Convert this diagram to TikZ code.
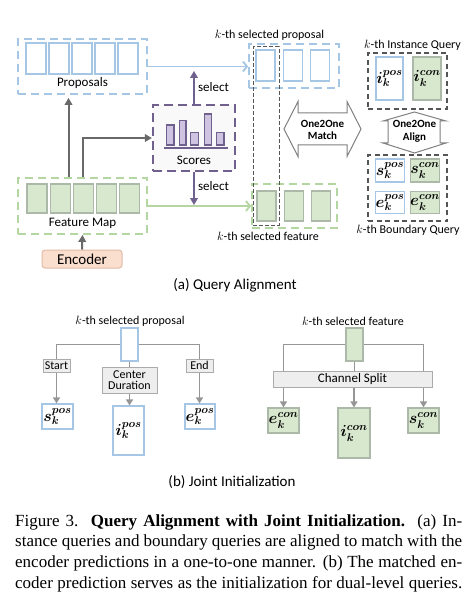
\RequirePackage{fix-cm}
\documentclass[tikz,border=0pt]{standalone}
\usepackage{fontspec}
\setmainfont{Liberation Serif}
\newfontfamily\diagfont{Carlito}
\usetikzlibrary{arrows.meta}

\definecolor{propblue}{RGB}{165,198,228}
\definecolor{featgreen}{RGB}{180,214,160}
\definecolor{featfill}{RGB}{216,232,206}
\definecolor{featline}{RGB}{172,184,168}
\definecolor{arrowgray}{RGB}{105,105,105}
\definecolor{scorepurple}{RGB}{112,96,142}
\definecolor{barfill}{RGB}{206,196,226}
\definecolor{encfill}{RGB}{250,222,206}
\definecolor{encline}{RGB}{226,186,166}
\definecolor{initgray}{RGB}{150,150,150}
\definecolor{initfill}{RGB}{238,238,238}
\definecolor{querydash}{RGB}{85,85,85}

\tikzset{
  boxtext/.style={font=\diagfont\fontsize{13}{13}\selectfont, inner sep=1pt},
  kthtext/.style={font=\diagfont\fontsize{12}{12}\selectfont, inner sep=0pt},
  captext/.style={font=\diagfont\fontsize{15}{15}\selectfont, inner sep=0pt},
  blocktext/.style={font=\diagfont\bfseries\fontsize{11}{12}\selectfont, align=center, inner sep=0pt},
  mathcell/.style={font=\fontsize{16}{16}\selectfont\boldmath},
  propgroup/.style={draw=propblue, line width=1.8pt, dash pattern=on 8pt off 5pt, inner sep=0pt},
  featgroup/.style={draw=featgreen, line width=1.8pt, dash pattern=on 8pt off 5pt, inner sep=0pt},
  scoregroup/.style={draw=scorepurple, fill=scorepurple!4, line width=2.2pt, dash pattern=on 9pt off 5pt, inner sep=0pt},
  querygroup/.style={draw=querydash, line width=1.3pt, dash pattern=on 5pt off 3.5pt, inner sep=0pt},
  colgroup/.style={draw=querydash, line width=1pt, dash pattern=on 4pt off 2pt, inner sep=0pt},
  propcell/.style={draw=propblue, fill=white, line width=1.2pt, inner sep=0pt},
  featcell/.style={draw=featline, fill=featfill, line width=1.2pt, inner sep=0pt},
  scorebar/.style={draw=scorepurple, fill=barfill, line width=1.2pt},
  grayarrow/.style={draw=arrowgray, line width=2pt, -{Triangle[length=7pt,width=7.5pt]}},
  selarrow/.style={draw=scorepurple, line width=2pt, -{Triangle[length=7pt,width=7.5pt]}},
  bluearrow/.style={draw=propblue, line width=1.8pt, -{Straight Barb[length=4pt,width=10pt]}},
  greenarrow/.style={draw=featgreen, line width=1.8pt, -{Straight Barb[length=4pt,width=10pt]}},
  blockarrow/.style={draw=gray, fill=white, line width=1pt, line join=miter},
  initline/.style={draw=initgray, line width=1.8pt},
  initarrow/.style={initline, -{Triangle[length=6pt,width=7pt]}},
  initbox/.style={draw=initgray!80, fill=initfill, line width=1pt, inner sep=1pt,
    font=\diagfont\fontsize{12}{11}\selectfont},
}

\begin{document}
\begin{tikzpicture}[x=1pt,y=-1pt]
    \useasboundingbox (0,0) rectangle (474,604);

    % (a) Proposals and feature map
    \node[propgroup, minimum width=129, minimum height=55] (proposals) at (82.5,66.5) {};
    \foreach \i in {0,...,4}
        \node[propcell, minimum width=20, minimum height=31] (prop\i) at (36+23*\i,58.5) {};
    \node[boxtext] (proplabel) at (82.5,83) {Proposals};

    \node[featgroup, minimum width=129, minimum height=56] (fmap) at (82.5,206) {};
    \foreach \i in {0,...,4}
        \node[featcell, minimum width=20, minimum height=29] (feat\i) at (37+23.2*\i,198.5) {};
    \node[boxtext] (fmaplabel) at (82.5,223) {Feature Map};

    \node[draw=encline, fill=encfill, line width=1pt, rounded corners=3pt, minimum width=80,
        minimum height=18, inner sep=0pt, font=\diagfont\fontsize{15}{15}\selectfont] (encoder) at (82,259) {Encoder};

    % Scores
    \node[scoregroup, minimum width=82, minimum height=66] (scores) at (194,138) {};
    \foreach \l/\t/\r in {166.7/125/174, 179.3/120.7/186, 190.7/132.3/198.3, 204.3/114/211.7, 216.7/132.7/224}
        \draw[scorebar] (\l,\t) rectangle (\r,145);
    \draw[scorepurple, line width=1.5pt] (164,148) -- (228,148);
    \node[boxtext] (scorelabel) at (194,160) {Scores};

    % Gray arrows
    \draw[grayarrow] (encoder.north) -- (fmap.south);
    \draw[grayarrow] ([xshift=-14pt]fmap.north) -- ([xshift=-14pt,yshift=-3pt]proposals.south);
    \draw[grayarrow] (fmap.north) |- (scores.west);

    % Select arrows
    \draw[selarrow] (scores.north) -- ++(0,-33) node[midway, right, boxtext, xshift=2pt] {select};
    \draw[selarrow] (scores.south) -- ++(0,33) node[midway, right, boxtext, xshift=2pt, yshift=3pt] {select};

    % k-th selected proposal / feature
    \node[propgroup, minimum width=90, minimum height=44] (selprop) at (294,66) {};
    \foreach \i in {0,1,2}
        \node[propcell, minimum width=19, minimum height=31] (sp\i) at (265.5+27.2*\i,65.5) {};
    \node[featgroup, minimum width=85, minimum height=44] (selfeat) at (294.5,206) {};
    \foreach \i in {0,1,2}
        \node[featcell, minimum width=19, minimum height=30] (sf\i) at (266.5+27.2*\i,206) {};
    \node[colgroup, minimum width=26, minimum height=178] (kcol) at (266,136) {};
    \node[kthtext] (selproplabel) at (269.5,35) {$k$-th selected proposal};
    \node[kthtext] (selfeatlabel) at (268,236) {$k$-th selected feature};

    \draw[bluearrow] (proposals.east) -- (proposals.east -| selprop.west);
    \draw[greenarrow] (fmap.east) -- (selfeat.west);

    % One2One Match
    \draw[blockarrow] (284,129) -- (298,101.5) -- (298,113) -- (347,113) -- (347,101.5) -- (361,129)
        -- (347,156.5) -- (347,145) -- (298,145) -- (298,156.5) -- cycle;
    \node[blocktext] (match) at (322.5,130) {One2One\\Match};

    % Instance query
    \node[querygroup, minimum width=79, minimum height=56] (instq) at (407.5,81) {};
    \node[propcell, minimum width=27, minimum height=43, mathcell] (ipos) at (389.5,78.5) {$i_k^{pos}$};
    \node[featcell, minimum width=28, minimum height=43, mathcell] (icon) at (427,78.5) {$i_k^{con}$};
    \node[kthtext] (instlabel) at (412.5,45) {$k$-th Instance Query};

    % One2One Align
    \draw[blockarrow] (414.5,112) -- (446,121) -- (440,121) -- (440,143) -- (446,143) -- (414.5,153)
        -- (383,143) -- (388,143) -- (388,121) -- (383,121) -- cycle;
    \node[blocktext] (align) at (414.5,131.5) {One2One\\[1pt]Align};

    % Boundary query
    \node[querygroup, minimum width=79, minimum height=66] (bndq) at (407.5,188) {};
    \node[propcell, minimum width=26, minimum height=23, mathcell] (spos) at (390,170.5) {$s_k^{pos}$};
    \node[featcell, minimum width=26, minimum height=23, mathcell] (scon) at (425,170.5) {$s_k^{con}$};
    \node[propcell, minimum width=26, minimum height=22, mathcell] (epos) at (390,202.5) {$e_k^{pos}$};
    \node[featcell, minimum width=26, minimum height=22, mathcell] (econ) at (425,202.5) {$e_k^{con}$};
    \node[kthtext] (bndlabel) at (408,230) {$k$-th Boundary Query};

    \node[captext] (capa) at (235,285) {(a) Query Alignment};

    % (b) Positional part
    \node[propcell, minimum width=17, minimum height=33] (bprop) at (129.5,344.5) {};
    \node[kthtext] (bproplabel) at (130,321) {$k$-th selected proposal};
    \node[initbox, minimum width=27, minimum height=13] (start) at (56.5,365.5) {Start};
    \node[initbox, minimum width=55, minimum height=26, align=center] (centerdur) at (129.5,380) {Center\\Duration};
    \node[initbox, minimum width=27, minimum height=13] (endb) at (199.5,365.5) {End};
    \node[propcell, minimum width=31, minimum height=25, mathcell] (bspos) at (57.5,416.5) {$s_k^{pos}$};
    \node[propcell, minimum width=31, minimum height=49, mathcell] (bipos) at (128.5,430.5) {$i_k^{pos}$};
    \node[propcell, minimum width=30, minimum height=25, mathcell] (bepos) at (200,416.5) {$e_k^{pos}$};

    \draw[initline] (start.north) |- (bprop.west);
    \draw[initline] (bprop.east) -| (endb.north);
    \draw[initline] (bprop.south) -- (centerdur.north);
    \draw[initarrow] (start.south) -- (start.south |- bspos.north);
    \draw[initarrow] (centerdur.south) -- (centerdur.south |- bipos.north);
    \draw[initarrow] (endb.south) -- (endb.south |- bepos.north);

    % (b) Content part
    \node[featcell, minimum width=17, minimum height=33] (bfeat) at (354.5,344.5) {};
    \node[kthtext] (bfeatlabel) at (353,321) {$k$-th selected feature};
    \node[initbox, minimum width=159, minimum height=16, font=\diagfont\fontsize{13}{13}\selectfont] (split) at (352.5,379) {Channel Split};
    \node[featcell, minimum width=31, minimum height=25, mathcell] (becon) at (283.5,420.5) {$e_k^{con}$};
    \node[featcell, minimum width=32, minimum height=50, mathcell] (bicon) at (354,433) {$i_k^{con}$};
    \node[featcell, minimum width=31, minimum height=25, mathcell] (bscon) at (423.5,420.5) {$s_k^{con}$};

    \draw[initline] (split.north -| becon.north) |- (bfeat.west);
    \draw[initline] (bfeat.east) -| (split.north -| bscon.north);
    \draw[initline] (bfeat.south) -- (bfeat.south |- split.north);
    \draw[initarrow] (split.south -| becon.north) -- (becon.north);
    \draw[initarrow] (split.south -| bicon.north) -- (bicon.north);
    \draw[initarrow] (split.south -| bscon.north) -- (bscon.north);

    \node[captext] (capb) at (232,482) {(b) Joint Initialization};

    % Figure caption
    \node[anchor=north west, inner sep=0pt, align=left, font=\fontsize{17}{20.7}\selectfont] (figcaption) at (15,514) {%
        \makebox[447pt][s]{Figure 3.\ \ \textbf{Query Alignment with Joint Initialization.}\ \ (a) In-}\\
        \makebox[447pt][s]{stance queries and boundary queries are aligned to match with the}\\
        \makebox[447pt][s]{encoder predictions in a one-to-one manner. (b) The matched en-}\\
        \makebox[447pt][s]{coder prediction serves as the initialization for dual-level queries.}};
\end{tikzpicture}
\end{document}
